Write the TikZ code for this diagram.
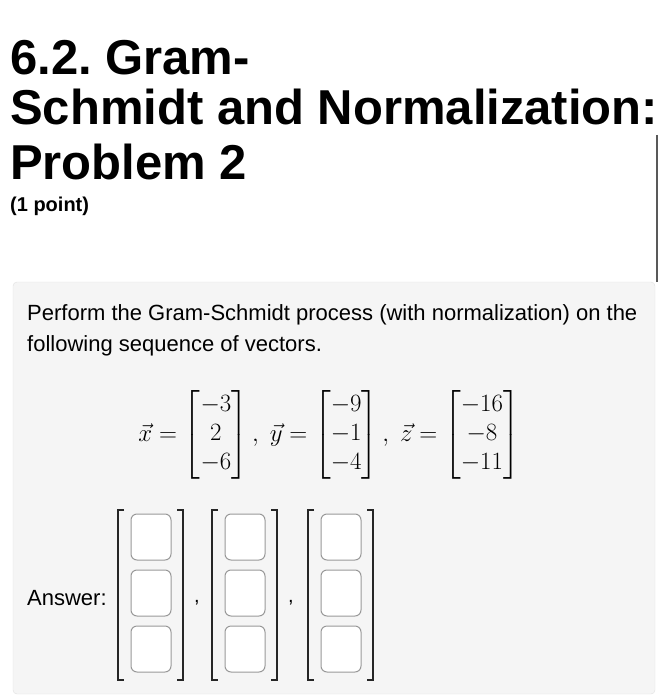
\documentclass[tikz,border=0pt]{standalone}
\usepackage{amsmath}
\usepackage{fontspec}
\setmainfont{Liberation Sans}
\frenchspacing
\tikzset{ansbox/.style={draw=gray!80,rounded corners=6pt,line width=1pt,fill=white,minimum width=40pt,minimum height=46pt,inner sep=0},
brk/.style={line width=1.8pt,black!85},
ttl/.style={anchor=base west,font=\bfseries\fontsize{49}{54}\selectfont,inner sep=0},
body/.style={anchor=base west,font=\fontsize{22}{26}\selectfont,inner sep=0}}
\begin{document}
\begin{tikzpicture}[x=1pt,y=-1pt]
\useasboundingbox (0,0) rectangle (667,700);
\node[ttl] (t1) at (10,75) {6.2. Gram-};
\node[ttl] (t2) at (10,125) {Schmidt and Normalization:};
\node[ttl] (t3) at (10,180) {Problem 2};
\node[anchor=base west,font=\bfseries\fontsize{20}{24}\selectfont,inner sep=0] (pt) at (10,212) {(1 point)};
\draw[line width=2.5pt,black!65] (657,135) -- (657,282);
\draw[draw=black!12,fill=black!4,rounded corners=4pt] (13,282) rectangle (655,694);
\node[body] (p1) at (27,320) {Perform the Gram-Schmidt process (with normalization) on the};
\node[body] (p2) at (27,351) {following sequence of vectors.};
\node[font=\fontsize{24.5}{29}\selectfont,inner sep=0] (eq) at (329,435) {$\vec{x}=\begin{bmatrix}-3\\2\\-6\end{bmatrix},\ \vec{y}=\begin{bmatrix}-9\\-1\\-4\end{bmatrix},\ \vec{z}=\begin{bmatrix}-16\\-8\\-11\end{bmatrix}$};
\node[body] (ans) at (27,605) {Answer:};
\foreach \i/\x in {1/118,2/212,3/308}{
  \draw[brk] (\x+6,510) -- (\x,510) -- (\x,680) -- (\x+6,680);
  \draw[brk] (\x+59,510) -- (\x+65,510) -- (\x+65,680) -- (\x+59,680);
  \node[ansbox] (b\i a) at (\x+33,537) {};
  \node[ansbox] (b\i b) at (\x+33,593) {};
  \node[ansbox] (b\i c) at (\x+33,649) {};
}
\node[font=\fontsize{20}{22}\selectfont,inner sep=0] (c1) at (197,603) {,};
\node[font=\fontsize{20}{22}\selectfont,inner sep=0] (c2) at (291,603) {,};
\end{tikzpicture}
\end{document}
